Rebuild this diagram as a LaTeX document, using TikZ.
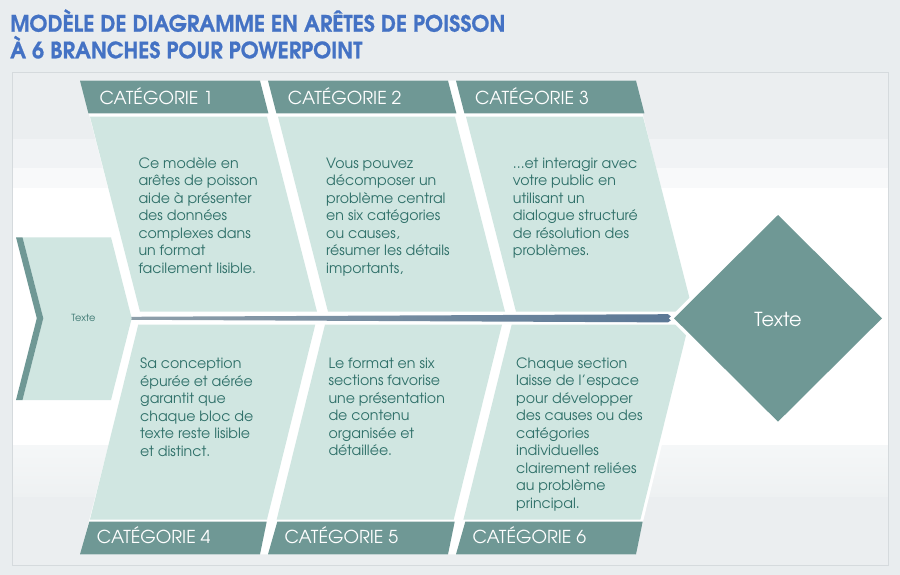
\documentclass[tikz,border=0pt]{standalone}
\usepackage{fontspec}
\setmainfont{texgyreadventor}[Extension=.otf, UprightFont=*-regular, BoldFont=*-bold, ItalicFont=*-italic, BoldItalicFont=*-bolditalic]
\newfontfamily\titlefont{texgyreadventor}[Extension=.otf, UprightFont=*-bold, FakeStretch=0.95, FakeBold=0.8]
\definecolor{pagebg}{HTML}{E9EDEF}
\definecolor{bandA}{HTML}{EBEEF0}
\definecolor{bandB}{HTML}{F1F3F5}
\definecolor{bandC}{HTML}{F8F9FA}
\definecolor{bandD}{HTML}{F5F7F8}
\definecolor{bandE}{HTML}{EEF1F2}
\definecolor{panelline}{HTML}{D5DADD}
\definecolor{hdr}{HTML}{6F9895}
\definecolor{bodyc}{HTML}{D0E6E1}
\definecolor{txtc}{HTML}{2F7069}
\definecolor{tailtxt}{HTML}{3A7670}
\definecolor{spineL}{HTML}{8E9FAA}
\definecolor{spineR}{HTML}{5B7896}
\definecolor{titleblue}{HTML}{4472C4}
\begin{document}
\begin{tikzpicture}[x=1pt,y=-1pt,
  bodytxt/.style={anchor=north west, inner sep=0pt, align=left, text=txtc, font=\fontsize{14.2}{17.5}\selectfont},
  hdrtxt/.style={anchor=base west, inner sep=0pt, text=white, font=\fontsize{17.8}{20}\selectfont},
  titletxt/.style={anchor=base west, inner sep=0pt, text=titleblue, font=\titlefont\fontsize{22.6}{26}\selectfont}]
\useasboundingbox (0,0) rectangle (900,575);
% background
\fill[pagebg] (0,0) rectangle (900,575);
\fill[bandA] (12,72.7) rectangle (888,139);
\fill[bandB] (12,139) rectangle (888,168);
\fill[bandC] (12,168) rectangle (888,188);
\fill[white] (12,188) rectangle (888,445);
\shade[top color=bandD, bottom color=bandE] (12,445) rectangle (888,497);
\fill[bandA] (12,497) rectangle (888,565);
\draw[panelline, line width=1] (12,72.7) rectangle (888,565);
% title
\node[titletxt] (t1) at (10,31.7) {MODÈLE DE DIAGRAMME EN ARÊTES DE POISSON};
\node[titletxt] (t2) at (10,58.3) {À 6 BRANCHES POUR POWERPOINT};
% white separators (gaps)
\fill[white] (80.5,80.7) -- (634.5,80.7) -- (693,318) -- (141,318) -- cycle;
\fill[white] (141,318) -- (693,318) -- (635,554.3) -- (80.5,554.3) -- cycle;
% upper headers and bodies
\foreach \k in {0,1,2}{
  \pgfmathsetmacro{\xx}{80+188*\k}
  \fill[hdr] (\xx,80.7) -- ++(180,0) -- ++(8.4,32.6) -- ++(-180,0) -- cycle;
  \fill[bodyc] (\xx+10,116.7) -- ++(177,0) -- ++(50,195) -- ++(-177,0) -- cycle;
}
% lower bodies and headers
\foreach \k in {0,1,2}{
  \pgfmathsetmacro{\xt}{138.3+186.7*\k}
  \pgfmathsetmacro{\xb}{80+188*\k}
  \fill[bodyc] (\xt,324.5) -- ++(177,0) -- ++(-48.3,195) -- ++(-177,0) -- cycle;
  \fill[hdr] (\xb+9.3,521.7) -- (\xb+186.7,521.7) -- (\xb+180,554.3) -- (\xb,554.3) -- cycle;
}
% spine
\shade[left color=spineL, right color=spineR] (131,316.8) -- (668,314.2) -- (673.5,318.3) -- (668,322.4) -- (131,319.8) -- cycle;
% tail
\fill[bodyc] (22.5,237.3) -- (111,237.3) -- (131.7,318.3) -- (111,400) -- (22.5,400) -- (43.3,318.3) -- cycle;
\fill[hdr] (16,237.3) -- (22.5,237.3) -- (43.3,318.3) -- (22.5,400) -- (16,400) -- (36.8,318.3) -- cycle;
\node[inner sep=0pt, anchor=base, text=tailtxt, font=\fontsize{9.8}{11}\selectfont] (tail) at (83.5,321.7) {Texte};
% head
\draw[white, line width=7, line join=miter] (674,318.3) -- (778,215) -- (882,318.3) -- (778,421.7) -- cycle;
\fill[hdr] (674,318.3) -- (778,215) -- (882,318.3) -- (778,421.7) -- cycle;
\node[inner sep=0pt, anchor=base, text=white, font=\fontsize{19.3}{22}\selectfont] (head) at (778,326.7) {Texte};
% header labels
\node[hdrtxt] (c1) at (99.3,105) {CATÉGORIE 1};
\node[hdrtxt] (c2) at (287.7,105) {CATÉGORIE 2};
\node[hdrtxt] (c3) at (475,105) {CATÉGORIE 3};
\node[hdrtxt] (c4) at (96.7,543.3) {CATÉGORIE 4};
\node[hdrtxt] (c5) at (284.3,543.3) {CATÉGORIE 5};
\node[hdrtxt] (c6) at (472.3,543.3) {CATÉGORIE 6};
% body texts
\node[bodytxt] (b1) at (138.3,155.8) {\rule{0pt}{12pt}Ce modèle en\\arêtes de poisson\\aide à présenter\\des données\\complexes dans\\un format\\facilement lisible.};
\node[bodytxt] (b2) at (326,155.8) {\rule{0pt}{12pt}Vous pouvez\\décomposer un\\problème central\\en six catégories\\ou causes,\\résumer les détails\\importants,};
\node[bodytxt] (b3) at (512.7,155.8) {\rule{0pt}{12pt}...et interagir avec\\votre public en\\utilisant un\\dialogue structuré\\de résolution des\\problèmes.};
\node[bodytxt] (b4) at (140,356.5) {\rule{0pt}{12pt}Sa conception\\épurée et aérée\\garantit que\\chaque bloc de\\texte reste lisible\\et distinct.};
\node[bodytxt] (b5) at (328.3,356) {\rule{0pt}{12pt}Le format en six\\sections favorise\\une présentation\\de contenu\\organisée et\\détaillée.};
\node[bodytxt] (b6) at (516,356) {\rule{0pt}{12pt}Chaque section\\laisse de l’espace\\pour développer\\des causes ou des\\catégories\\individuelles\\clairement reliées\\au problème\\principal.};
\end{tikzpicture}
\end{document}
